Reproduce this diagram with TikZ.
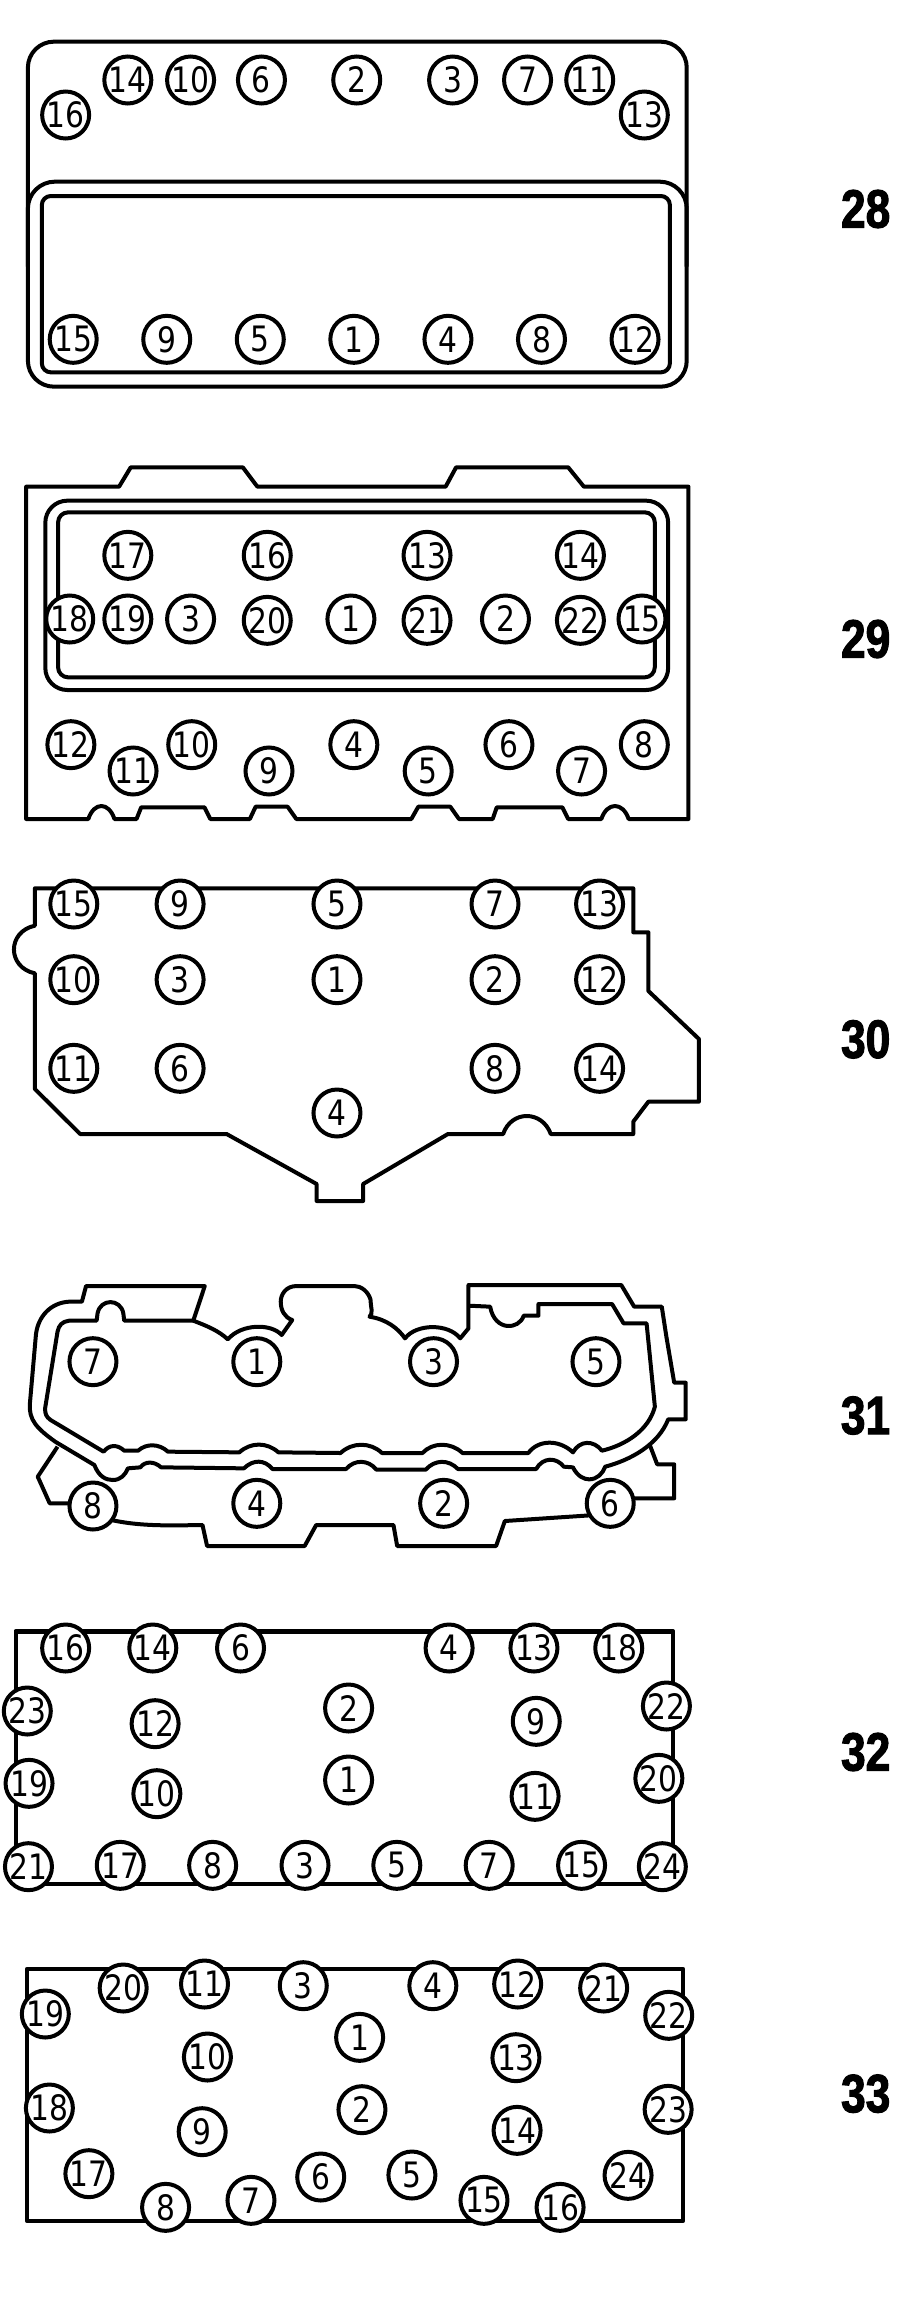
\documentclass[tikz,border=0pt]{standalone}
\usepackage{fontspec}
\setmainfont{DejaVu Sans}
\newfontfamily\boltfont{DejaVu Sans}[FakeStretch=0.85]
\newfontfamily\tagfont{Liberation Sans}[FakeStretch=0.82,FakeBold=2]
\tikzset{
  outline/.style={draw=black,line width=4pt,line join=round},
  bolt/.style={circle,draw=black,fill=white,line width=4pt,minimum size=47pt,inner sep=0pt,
     font=\boltfont\fontsize{35}{35}\selectfont},
  tagtext/.style={inner sep=0pt,font=\tagfont\bfseries\fontsize{54}{54}\selectfont},
  panel/.style={x=0.581pt,y=-0.33333pt},
  widepanel/.style={x=0.4602pt,y=-0.33333pt}
}
\begin{document}
\begin{tikzpicture}[x=1pt,y=-1pt]
\useasboundingbox[fill=white] (0,0) rectangle (909,2300);
% ---------- 28
\begin{scope}[panel]
\draw[outline,rounded corners=26pt] (48,125) rectangle (1182,1160);
\draw[outline,rounded corners=27pt] (48,800) -- (48,545) -- (1182,545) -- (1182,800);
\draw[outline,rounded corners=9pt] (72,588) rectangle (1153,1117);
\foreach \n/\a/\b/\t in {a/113/345/16,b/220/240/14,c/328/240/10,d/450/240/6,e/614/240/2,f/779/240/3,g/908/240/7,h/1015/240/11,i/1109/345/13,
 j/126/1018/15,k/287/1018/9,l/448/1018/5,m/609/1018/1,n/771/1018/4,o/932/1018/8,p/1093/1018/12}
  \node[bolt] (A\n) at (\a,\b) {\t};
\node[tagtext] (tagA) at (1490,627) {28};
\end{scope}
% ---------- 29
\begin{scope}[panel,yshift=-440pt]
\draw[outline] (45,140) -- (205,140) -- (225,82) -- (418,82) -- (443,140) -- (767,140) -- (785,82) -- (978,82) -- (1005,140) -- (1185,140) -- (1185,1137) -- (1082,1137)
 .. controls (1072,1085) and (1045,1085) .. (1035,1137) -- (978,1137) -- (968,1102) -- (855,1102) -- (848,1137) -- (790,1137) -- (775,1100) -- (720,1100) -- (708,1137) -- (510,1137) -- (495,1100) -- (440,1100) -- (430,1137) -- (362,1137) -- (352,1102) -- (243,1102) -- (235,1137) -- (197,1137)
 .. controls (187,1085) and (162,1085) .. (152,1137) -- (45,1137) -- cycle;
\draw[outline,rounded corners=22pt] (78,182) rectangle (1150,750);
\draw[outline,rounded corners=10pt] (100,217) rectangle (1127,712);
\foreach \n/\a/\b/\t in {a/220/346/17,b/460/346/16,c/735/346/13,d/999/346/14,
 e/120/537/18,f/220/537/19,g/328/537/3,h/460/541/20,i/604/537/1,j/735/541/21,k/870/537/2,l/999/541/22,m/1105/537/15,
 n/122/914/12,o/229/993/11,p/330/914/10,q/463/993/9,r/609/914/4,s/737/993/5,t/876/914/6,u/1001/993/7,v/1109/914/8}
  \node[bolt] (B\n) at (\a,\b) {\t};
\node[tagtext] (tagB) at (1490,597) {29};
\end{scope}
% ---------- 30
\begin{scope}[panel,yshift=-860pt]
\draw[outline] (60,85) -- (1090,85) -- (1090,217) -- (1116,217) -- (1116,393) -- (1203,537) -- (1203,725) -- (1116,725) -- (1090,785) -- (1090,822) -- (948,822)
 .. controls (933,750) and (880,750) .. (866,822) -- (771,822) -- (625,972) -- (625,1023) -- (545,1023) -- (545,972) -- (390,822) -- (138,822) -- (60,687) -- (60,340)
 .. controls (12,322) and (12,215) .. (60,197) -- cycle;
\foreach \n/\a/\b/\t in {a/127/132/15,b/310/132/9,c/580/132/5,d/852/132/7,e/1032/132/13,
 f/127/359/10,g/310/359/3,h/580/359/1,i/852/359/2,j/1032/359/12,
 k/127/625/11,l/310/625/6,m/852/625/8,n/1032/625/14,o/580/759/4}
  \node[bolt] (C\n) at (\a,\b) {\t};
\node[tagtext] (tagC) at (1490,538) {30};
\end{scope}
% ---------- 31
\begin{scope}[widepanel,yshift=-1260pt]
% outer gasket line
\draw[outline] (445,78) -- (187,78) -- (178,125) -- (150,125) .. controls (110,128) and (82,170) .. (78,225) -- (65,430) .. controls (62,480) and (80,505) .. (120,545) -- (205,615)
 .. controls (215,650) and (230,660) .. (245,660) .. controls (262,660) and (272,645) .. (278,625) -- (305,622)
 .. controls (315,603) and (335,603) .. (350,622) -- (530,625) .. controls (550,598) and (575,598) .. (592,627) -- (752,627) .. controls (770,598) and (800,598) .. (818,629) -- (925,629) .. controls (945,598) and (975,598) .. (995,627) -- (1165,627) .. controls (1180,590) and (1210,592) .. (1225,620) -- (1245,622)
 .. controls (1255,650) and (1270,658) .. (1280,658) .. controls (1298,658) and (1310,640) .. (1315,620) .. controls (1370,600) and (1430,555) .. (1452,478) -- (1490,478) -- (1490,368) -- (1465,368) -- (1448,230) -- (1438,140) -- (1378,140) -- (1350,75) -- (1018,75) -- (1018,205) -- (1000,235)
 .. controls (975,190) and (905,190) .. (880,235) .. controls (865,205) and (840,178) .. (803,170) .. controls (812,160) and (805,140) .. (805,118) .. controls (800,95) and (785,78) .. (770,78) -- (645,78) .. controls (620,78) and (610,105) .. (610,125) .. controls (610,150) and (618,172) .. (635,180) -- (612,225)
 .. controls (590,190) and (525,190) .. (495,238) .. controls (475,212) and (450,198) .. (420,182) -- cycle;
% inner gasket line
\draw[outline] (420,182) -- (270,182) -- (268,160) .. controls (262,115) and (218,115) .. (212,160) -- (210,182) -- (150,182) .. controls (135,185) and (128,195) .. (125,215) -- (98,445) .. controls (98,462) and (100,470) .. (110,480) -- (225,575)
 .. controls (238,553) and (255,553) .. (270,572) -- (300,572) .. controls (318,550) and (345,550) .. (365,575) -- (520,577) .. controls (545,546) and (580,546) .. (605,577) -- (740,579) .. controls (765,546) and (805,546) .. (830,579) -- (918,579) .. controls (940,546) and (980,546) .. (1005,579) -- (1148,579) .. controls (1170,538) and (1215,538) .. (1245,577) .. controls (1260,540) and (1290,540) .. (1308,572) .. controls (1360,555) and (1410,510) .. (1423,440) -- (1405,190) -- (1355,190) -- (1330,132) -- (1170,132) -- (1170,167) -- (1138,167) .. controls (1128,210) and (1075,215) .. (1065,140) -- (1018,137);
% lower flange
\draw[outline] (125,560) -- (82,650) -- (108,730) -- (202,730);
\draw[outline] (202,765) .. controls (280,800) and (350,797) .. (440,795) -- (450,858) -- (662,858) -- (687,795) -- (855,795) -- (863,858) -- (1078,858) -- (1097,783) -- (1326,762);
\draw[outline] (1326,715) -- (1465,715) -- (1465,613) -- (1428,613) -- (1412,555);
\foreach \n/\a/\b/\t in {a/202/305/7,b/558/305/1,c/942/305/3,d/1295/305/5,e/202/738/8,f/558/730/4,g/964/730/2,h/1326/730/6}
  \node[bolt] (D\n) at (\a,\b) {\t};
\end{scope}
\node[tagtext] (tagD) at (865.5,1415.5) {31};
% ---------- 32
\begin{scope}[panel,yshift=-1600pt]
\draw[outline] (27,93) rectangle (1158,852);
\draw[outline,line width=5pt] (27,93) -- (1158,93);
\foreach \n/\a/\b/\t in {a/113/144/16,b/263/144/14,c/414/144/6,d/773/144/4,e/919/144/13,f/1065/144/18,
 g/47/333/23,h/267/371/12,i/600/324/2,j/923/364/9,k/1147/318/22,
 l/50/550/19,m/270/581/10,n/600/540/1,o/921/589/11,p/1134/535/20,
 q/49/800/21,r/207/796/17,s/366/796/8,t/525/796/3,u/683/796/5,v/842/796/7,w/1001/796/15,x/1140/800/24}
  \node[bolt] (E\n) at (\a,\b) {\t};
\node[tagtext] (tagE) at (1490,456) {32};
\end{scope}
% ---------- 33
\begin{scope}[panel,yshift=-1940pt]
\draw[outline] (46,87) rectangle (1176,842);
\foreach \n/\a/\b/\t in {a/78/222/19,b/212/144/20,c/352/132/11,d/522/137/3,e/745/137/4,f/891/132/12,g/1039/144/21,h/1151/226/22,
 i/357/351/10,j/619/292/1,k/888/353/13,l/85/504/18,m/348/575/9,n/623/509/2,o/890/571/14,p/1150/508/23,
 q/153/701/17,r/285/802/8,s/432/781/7,t/552/711/6,u/709/705/5,v/833/781/15,w/964/802/16,x/1081/706/24}
  \node[bolt] (F\n) at (\a,\b) {\t};
\node[tagtext] (tagF) at (1490,461) {33};
\end{scope}
\end{tikzpicture}
\end{document}
